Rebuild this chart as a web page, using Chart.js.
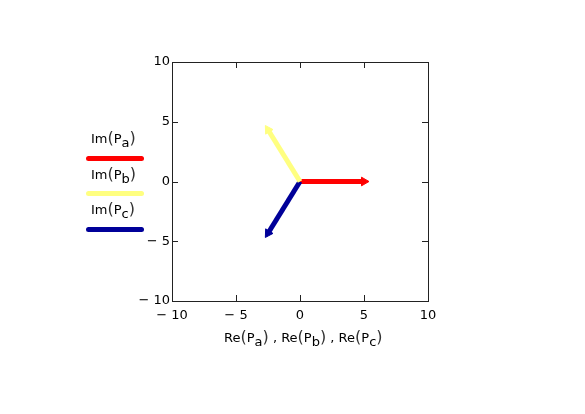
<!DOCTYPE html>
<html>
<head>
<meta charset="utf-8">
<script src="https://cdn.jsdelivr.net/npm/chart.js@4"></script>
<style>
  body { margin:0; background:#fff; }
  #wrap { position:relative; width:585px; height:414px; }
  #c { position:absolute; left:0; top:0; }
  .lab { position:absolute; font-family:"DejaVu Sans", Verdana, sans-serif; font-size:13px; color:#000; white-space:nowrap; }
  .lab sub { font-size:13px; vertical-align:-4px; line-height:0; }
  .lab .p { font-size:16px; color:#333; }
  .sw { position:absolute; height:5px; border-radius:3px; }
</style>
</head>
<body>
<div id="wrap">
  <canvas id="c" width="585" height="414"></canvas>
  <div class="lab" style="left:91px;top:128px">Im<span class="p">(</span>P<sub>a</sub><span class="p">)</span></div>
  <div class="sw" style="left:86px;top:156px;width:58px;background:#ff0000"></div>
  <div class="lab" style="left:91px;top:164px">Im<span class="p">(</span>P<sub>b</sub><span class="p">)</span></div>
  <div class="sw" style="left:86px;top:191px;width:58px;background:#ffff80"></div>
  <div class="lab" style="left:91px;top:199px">Im<span class="p">(</span>P<sub>c</sub><span class="p">)</span></div>
  <div class="sw" style="left:86px;top:227px;width:58px;background:#000099"></div>
  <div class="lab" style="left:224px;top:327px">Re<span class="p">(</span>P<sub>a</sub><span class="p">)</span> , Re<span class="p">(</span>P<sub>b</sub><span class="p">)</span> , Re<span class="p">(</span>P<sub>c</sub><span class="p">)</span></div>
</div>
<script>
// phasors, start at origin
var reA = [0, 5],    imA = [0, 0];
var reB = [0, -2.5], imB = [0, 4.33];
var reC = [0, -2.5], imC = [0, -4.33];
var tickVals = [-10, -5, 0, 5, 10];
var tickText = ["\u2212 10", "\u2212 5", "0", "5", "10"];

function pts(re, im) {
  return re.map(function (x, i) { return { x: x, y: im[i] }; });
}

function phasor(re, im, col, rot) {
  return {
    data: pts(re, im),
    showLine: true,
    borderColor: col,
    backgroundColor: col,
    borderWidth: 5,
    pointStyle: "triangle",
    pointRadius: [0, 5],
    pointBorderWidth: 1,
    pointRotation: [0, rot]
  };
}

// box frame with inward ticks
var frame = {
  id: "frame",
  afterDraw: function (chart) {
    var ctx = chart.ctx, a = chart.chartArea;
    var sx = chart.scales.x, sy = chart.scales.y;
    ctx.save();
    ctx.strokeStyle = "#222";
    ctx.lineWidth = 1;
    ctx.strokeRect(a.left + 0.5, a.top + 0.5, a.right - a.left, a.bottom - a.top);
    ctx.beginPath();
    tickVals.forEach(function (v) {
      var px = Math.round(sx.getPixelForValue(v)) + 0.5;
      ctx.moveTo(px, a.top); ctx.lineTo(px, a.top + 6);
      ctx.moveTo(px, a.bottom); ctx.lineTo(px, a.bottom - 6);
      var py = Math.round(sy.getPixelForValue(v)) + 0.5;
      ctx.moveTo(a.left, py); ctx.lineTo(a.left + 6, py);
      ctx.moveTo(a.right, py); ctx.lineTo(a.right - 6, py);
    });
    ctx.stroke();
    ctx.restore();
  }
};

var tickFont = { family: "DejaVu Sans", size: 13 };

new Chart("c", {
  type: "scatter",
  data: {
    datasets: [
      phasor(reB, imB, "#ffff80", -32),
      phasor(reC, imC, "#000099", 212),
      phasor(reA, imA, "#ff0000", 90)
    ]
  },
  options: {
    responsive: false,
    animation: false,
    layout: { padding: { left: 0, top: 62, right: 157, bottom: 0 } },
    plugins: { legend: { display: false }, tooltip: { enabled: false } },
    scales: {
      x: {
        type: "linear", min: -10, max: 10,
        afterBuildTicks: function (s) { s.ticks = tickVals.map(function (v) { return { value: v }; }); },
        afterFit: function (s) { s.height = 113; },
        grid: { display: false, drawTicks: false },
        border: { display: false },
        ticks: {
          color: "#000", font: tickFont, padding: 7, maxRotation: 0,
          callback: function (v) { return tickText[tickVals.indexOf(v)]; }
        }
      },
      y: {
        type: "linear", min: -10, max: 10,
        afterBuildTicks: function (s) { s.ticks = tickVals.map(function (v) { return { value: v }; }); },
        afterFit: function (s) { s.width = 172; },
        grid: { display: false, drawTicks: false },
        border: { display: false },
        ticks: {
          color: "#000", font: tickFont, padding: 2,
          callback: function (v) { return tickText[tickVals.indexOf(v)]; }
        }
      }
    }
  },
  plugins: [frame]
});
</script>
</body>
</html>
